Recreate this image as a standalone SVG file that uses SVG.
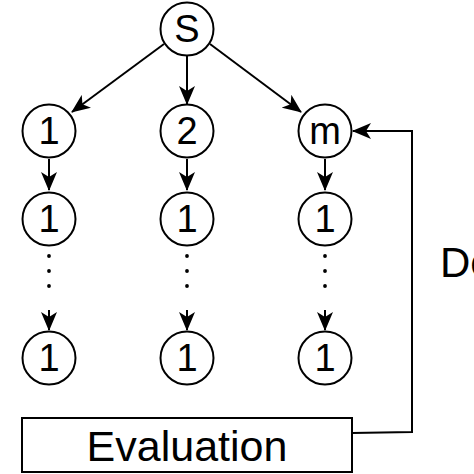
<svg xmlns="http://www.w3.org/2000/svg" width="474" height="474" viewBox="0 0 474 474">
<defs>
<style>
.node circle{fill:#fff;stroke:#000;stroke-width:2}
.node text{font-family:"Liberation Sans",Arial,sans-serif;font-size:38px;text-anchor:middle;fill:#000}
.edge{fill:none;stroke:#000;stroke-width:2}
.dot{fill:none;stroke:#000;stroke-width:3.8;stroke-linecap:round;stroke-dasharray:0 15}
</style>
<marker id="ah" viewBox="0 0 19 16" refX="18" refY="8" markerWidth="19" markerHeight="16" markerUnits="userSpaceOnUse" orient="auto">
<path d="M0,0 L19,8 L0,16 L5,8 Z" fill="#000"/>
</marker>
</defs>
<rect width="474" height="474" fill="#fff"/>
<g id="connectors">
<line class="edge" x1="164" y1="44" x2="72" y2="112" marker-end="url(#ah)"/>
<line class="edge" x1="187" y1="56" x2="187" y2="104" marker-end="url(#ah)"/>
<line class="edge" x1="210" y1="44" x2="301" y2="112" marker-end="url(#ah)"/>
<line class="edge" x1="49" y1="159" x2="49" y2="190" marker-end="url(#ah)"/>
<line class="edge" x1="187" y1="159" x2="187" y2="190" marker-end="url(#ah)"/>
<line class="edge" x1="325" y1="159" x2="325" y2="190" marker-end="url(#ah)"/>
<line class="dot" x1="49" y1="256" x2="49" y2="301"/>
<line class="dot" x1="187" y1="256" x2="187" y2="301"/>
<line class="dot" x1="325" y1="256" x2="325" y2="301"/>
<line class="edge" x1="49" y1="310" x2="49" y2="330" marker-end="url(#ah)"/>
<line class="edge" x1="187" y1="310" x2="187" y2="330" marker-end="url(#ah)"/>
<line class="edge" x1="325" y1="310" x2="325" y2="330" marker-end="url(#ah)"/>
<polyline class="edge" points="352,433 412,432 412,131 353,131" marker-end="url(#ah)"/>
</g>
<g id="node-s" class="node"><circle cx="187" cy="29" r="26.5"/><text x="187" y="42">S</text></g>
<g id="node-r1c1" class="node"><circle cx="49" cy="131" r="26.5"/><text x="49" y="144">1</text></g>
<g id="node-r1c2" class="node"><circle cx="187" cy="131" r="26.5"/><text x="187" y="144">2</text></g>
<g id="node-r1c3" class="node"><circle cx="325" cy="131" r="26.5"/><text x="325" y="144">m</text></g>
<g id="node-r2c1" class="node"><circle cx="49" cy="219" r="26.5"/><text x="49" y="232">1</text></g>
<g id="node-r2c2" class="node"><circle cx="187" cy="219" r="26.5"/><text x="187" y="232">1</text></g>
<g id="node-r2c3" class="node"><circle cx="325" cy="219" r="26.5"/><text x="325" y="232">1</text></g>
<g id="node-r3c1" class="node"><circle cx="49" cy="358" r="26.5"/><text x="49" y="371">1</text></g>
<g id="node-r3c2" class="node"><circle cx="187" cy="358" r="26.5"/><text x="187" y="371">1</text></g>
<g id="node-r3c3" class="node"><circle cx="325" cy="358" r="26.5"/><text x="325" y="371">1</text></g>
<g id="node-eval"><rect x="22" y="418" width="330" height="54" fill="#fff" stroke="#000" stroke-width="2"/><text x="187" y="461" font-family="Liberation Sans,Arial,sans-serif" font-size="43" text-anchor="middle">Evaluation</text></g>
<text x="440" y="277" font-family="Liberation Sans,Arial,sans-serif" font-size="42">De</text>
</svg>
